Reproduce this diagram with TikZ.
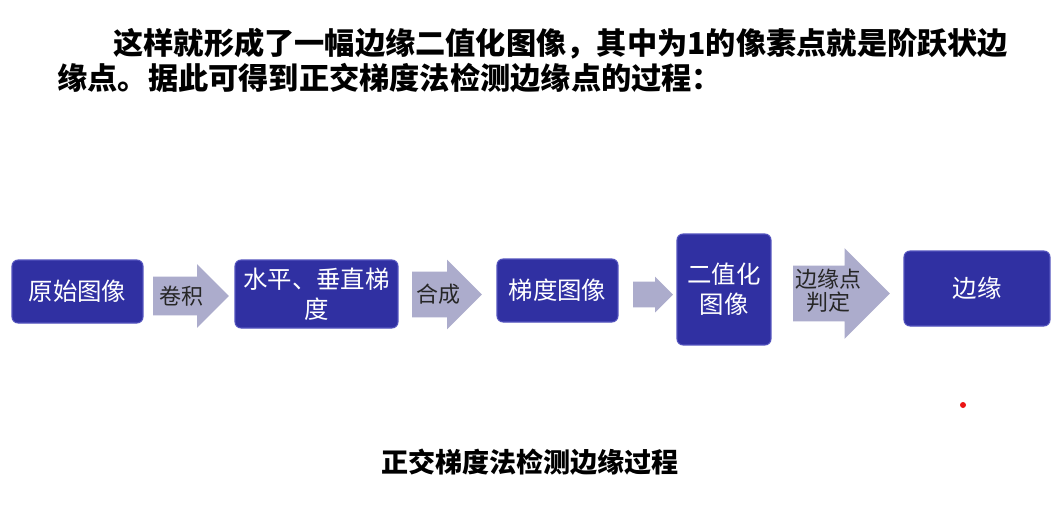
\documentclass[tikz,border=0pt]{standalone}
\usepackage{fontspec}
\setmainfont{Noto Sans CJK SC}
\usetikzlibrary{shapes.arrows}
\definecolor{boxblue}{RGB}{48,48,162}
\definecolor{boxrim}{RGB}{84,84,190}
\definecolor{arrowgray}{RGB}{172,172,204}
\definecolor{laser}{RGB}{235,20,20}
\newcommand\armtext[3]{\parbox[c][#1][c]{#2}{\centering #3}}

\begin{document}
\begin{tikzpicture}[x=0.02cm,y=-0.02cm,
  procbox/.style={draw=boxrim,fill=boxblue,line width=0.6pt,rounded corners=0.12cm,
    text=white,align=center,inner sep=0pt,font=\fontsize{13.9}{17}\selectfont},
  flowarrow/.style={single arrow,fill=arrowgray,inner sep=0pt,outer sep=0pt,anchor=tail,
    single arrow tip angle=90,text=black!85,font=\fontsize{12.5}{15}\selectfont},
  para/.style={anchor=base west,inner sep=0pt,font=\fontsize{17.2}{20}\selectfont\bfseries}]
  \useasboundingbox[fill=white] (0,0) rectangle (1063,515);

  \node[para] (line1) at (113,54) {这样就形成了一幅边缘二值化图像，其中为1的像素点就是阶跃状边};
  \node[para] (line2) at (57,89) {缘点。据此可得到正交梯度法检测边缘点的过程：};

  \node[procbox,minimum width=2.62cm,minimum height=1.26cm] (orig) at (77.5,291.5) {原始图像};
  \node[procbox,minimum width=3.26cm,minimum height=1.36cm] (grad) at (316.5,294) {水平、垂直梯\\度};
  \node[procbox,minimum width=2.42cm,minimum height=1.26cm] (gimg) at (557.5,290.5) {梯度图像};
  \node[procbox,minimum width=1.88cm,minimum height=2.22cm] (bin) at (724,289.5) {二值化\\图像};
  \node[procbox,minimum width=2.92cm,minimum height=1.50cm] (edge) at (977,288.5) {边缘};

  \node[flowarrow,minimum height=1.52cm,single arrow head extend=0.25cm] (conv) at (153,296)
    {\armtext{0.76cm}{0.89cm}{卷积}};
  \node[flowarrow,minimum height=1.40cm,single arrow head extend=0.24cm] (merge) at (412,294.5)
    {\armtext{0.9cm}{0.7cm}{\makebox[0.7cm][l]{\kern-0.04cm 合成}}};
  \node[flowarrow,minimum height=0.80cm,single arrow head extend=0.1cm] (thr) at (633,294.5)
    {\armtext{0.5cm}{0.44cm}{}};
  \node[flowarrow,minimum height=1.94cm,single arrow head extend=0.35cm] (judge) at (793,293.5)
    {\armtext{1.1cm}{1.04cm}{\makebox[1.04cm][l]{\kern-0.12cm\begin{tabular}{@{}c@{}}边缘点\\[-2pt]判定\end{tabular}}}};

  \node[inner sep=0pt,font=\fontsize{15.4}{18}\selectfont\bfseries] (caption) at (530,462) {正交梯度法检测边缘过程};
  \node[circle,fill=laser,inner sep=0pt,minimum size=0.12cm] (dot) at (963,405) {};
\end{tikzpicture}
\end{document}
